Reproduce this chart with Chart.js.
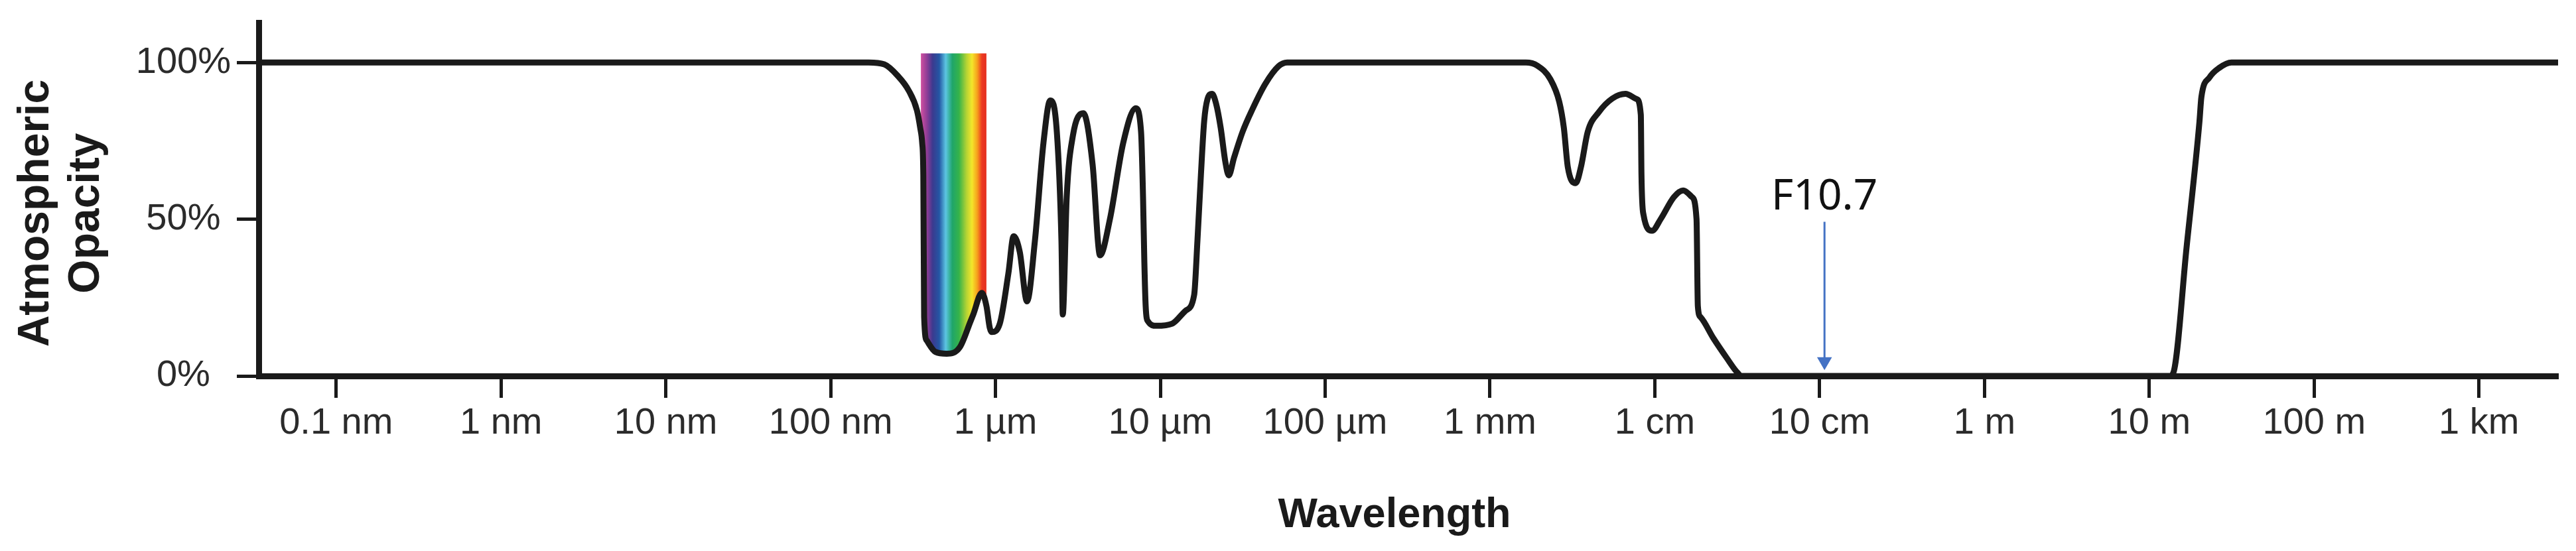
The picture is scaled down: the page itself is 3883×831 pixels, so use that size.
<!DOCTYPE html>
<html>
<head>
<meta charset="utf-8">
<script src="https://cdn.jsdelivr.net/npm/chart.js@4.4.1/dist/chart.umd.min.js"></script>
<style>
  html, body { margin: 0; padding: 0; background: #fff; }
  canvas { display: block; }
</style>
</head>
<body>
<canvas id="chart" width="3883" height="831" style="width:3883px;height:831px"></canvas>
<script>
// wavelength as log10(metres), opacity in %
const logWavelength = [
  -10.47, -6.77, -6.675, -6.594, -6.526, -6.477, -6.457, -6.445, -6.438, -6.433,
  -6.417, -6.365, -6.296, -6.216, -6.151, -6.135, -6.083, -6.055, -6.035, -6.023,
  -5.974, -5.922, -5.890, -5.853, -5.809, -5.761, -5.709, -5.668, -5.628, -5.600,
  -5.592, -5.568, -5.531, -5.467, -5.411, -5.366, -5.306, -5.225, -5.149, -5.117,
  -5.105, -5.097, -5.089, -5.076, -5.024, -4.928, -4.847, -4.795, -4.775, -4.754,
  -4.734, -4.714, -4.686, -4.662, -4.634, -4.605, -4.585, -4.553, -4.501, -4.444,
  -4.364, -4.283, -4.231, -2.782, -2.713, -2.633, -2.580, -2.552, -2.528, -2.480,
  -2.448, -2.407, -2.339, -2.258, -2.178, -2.110, -2.085, -2.081, -2.069, -2.017,
  -1.965, -1.884, -1.828, -1.775, -1.747, -1.739, -1.723, -1.643, -1.562, -1.506,
  -1.473, 1.123, 1.147, 1.226, 1.304, 1.316, 1.365, 1.425, 1.498, 3.48
];
const opacity = [
  100, 100, 99.4, 95.8, 91.0, 84.8, 79.2, 74.4, 64.0, 18.8,
  11.3, 7.7, 7.1, 9.2, 17.5, 19.6, 26.5, 22.3, 15.4, 14.0,
  16.7, 32.7, 44.6, 39.6, 23.8, 43.1, 74.4, 87.9, 77.9, 43.1,
  19.6, 57.1, 76.5, 83.8, 67.5, 38.5, 50.0, 74.4, 85.4, 77.9,
  57.1, 36.3, 22.3, 17.5, 16.0, 16.7, 20.8, 25.8, 43.1, 64.0,
  81.3, 88.3, 90.0, 86.9, 79.2, 68.1, 64.0, 69.6, 77.9, 84.8,
  93.1, 98.8, 100, 100, 99.0, 94.6, 87.5, 79.2, 66.7, 61.5,
  66.7, 77.9, 84.2, 88.5, 90.0, 88.3, 83.3, 64.0, 51.5, 46.3,
  50.0, 57.1, 59.2, 57.1, 50.0, 22.3, 18.8, 11.9, 5.6, 1.5,
  0, 0, 1.2, 41, 81.0, 89.0, 95.2, 98.3, 100, 100
];

const tickExponents = [-10, -9, -8, -7, -6, -5, -4, -3, -2, -1, 0, 1, 2, 3];
const tickLabels = ['0.1 nm', '1 nm', '10 nm', '100 nm', '1 µm', '10 µm', '100 µm',
  '1 mm', '1 cm', '10 cm', '1 m', '10 m', '100 m', '1 km'];
const yTicks = [0, 50, 100];

// visible light band (log10 m) and its top edge
const visibleBand = [-6.453, -6.055];
const visibleTop = 102.9;
const rainbow = ['#d050a0', '#8a3c96', '#3b3a8f', '#2456a4', '#5cc5e2', '#1fa56a',
  '#35b34a', '#b8d433', '#f4e62a', '#f6a01c', '#ec3a22', '#e42f1f'];
const rainbowStops = [0, 0.10, 0.18, 0.28, 0.38, 0.48, 0.58, 0.70, 0.78, 0.86, 0.93, 1];

const f107Label = 'F10.7';
const f107Wavelength = 0.107; // metres
const f107Arrow = [49.2, 4.6];

const yTitle = ['Atmospheric', 'Opacity'];
const xTitle = 'Wavelength';

const INK = '#1a1a1a';
const ARROW = '#4472c4';
const SANS = '"Liberation Sans", Arial, Helvetica, sans-serif';

const f107X = Math.log10(f107Wavelength);

function rainbowFill(context) {
  const chart = context.chart;
  const x = chart.scales.x;
  const clear = 'rgba(0,0,0,0)';
  if (!x) return clear;
  const x0 = x.getPixelForValue(visibleBand[0]);
  const x1 = x.getPixelForValue(visibleBand[1]);
  if (!isFinite(x0) || !isFinite(x1)) return clear;
  const g = chart.ctx.createLinearGradient(x0, 0, x1, 0);
  rainbow.forEach((c, i) => g.addColorStop(rainbowStops[i], c));
  return g;
}

const titles = {
  id: 'titles',
  afterDraw(chart) {
    const { ctx, chartArea, scales: { x, y } } = chart;
    ctx.save();
    ctx.fillStyle = INK;

    // y title, two rotated lines
    ctx.font = 'bold 66px ' + SANS;
    ctx.textAlign = 'center';
    ctx.textBaseline = 'middle';
    const cy = (chartArea.top + chartArea.bottom) / 2 + 21;
    yTitle.forEach((t, i) => {
      ctx.save();
      ctx.translate(55 + i * 76, cy);
      ctx.rotate(-Math.PI / 2);
      ctx.fillText(t, 0, 0);
      ctx.restore();
    });

    // x title
    ctx.font = 'bold 63px ' + SANS;
    ctx.textBaseline = 'alphabetic';
    ctx.fillText(xTitle, (chartArea.left + chartArea.right) / 2 - 21, chartArea.bottom + 228);

    // F10.7 label above the arrow
    ctx.font = '64px "Noto Sans", "Open Sans", sans-serif';
    ctx.fillStyle = '#111';
    ctx.fillText(f107Label, x.getPixelForValue(f107X), y.getPixelForValue(f107Arrow[0]) - 18);
    ctx.restore();
  }
};

new Chart(document.getElementById('chart'), {
  type: 'line',
  data: {
    datasets: [
      {
        label: 'Atmospheric opacity',
        data: logWavelength.map((v, i) => ({ x: v, y: opacity[i] })),
        borderColor: INK,
        borderWidth: 9,
        borderCapStyle: 'round',
        borderJoinStyle: 'round',
        cubicInterpolationMode: 'monotone',
        pointRadius: 0,
        fill: false
      },
      {
        label: 'Visible',
        data: visibleBand.map(v => ({ x: v, y: visibleTop })),
        borderWidth: 0,
        borderColor: 'rgba(0,0,0,0)',
        backgroundColor: rainbowFill,
        pointRadius: 0,
        fill: '-1'
      },
      {
        label: f107Label,
        data: f107Arrow.map(v => ({ x: f107X, y: v })),
        borderColor: ARROW,
        borderWidth: 3,
        tension: 0,
        pointRadius: [0, 13],
        pointStyle: 'triangle',
        rotation: 180,
        pointBackgroundColor: ARROW,
        pointBorderWidth: 0,
        fill: false
      }
    ]
  },
  options: {
    responsive: false,
    devicePixelRatio: 1,
    animation: false,
    layout: { padding: { top: 26, right: 27, left: 0, bottom: 0 } },
    plugins: { legend: { display: false }, tooltip: { enabled: false } },
    scales: {
      x: {
        type: 'linear',
        min: -10.47,
        max: 3.48,
        afterBuildTicks: s => { s.ticks = tickExponents.map(v => ({ value: v })); },
        afterFit: s => { s.height = 264; },
        grid: {
          drawOnChartArea: false,
          drawTicks: true,
          tickLength: 33,
          tickWidth: 5,
          tickColor: INK
        },
        border: { display: true, width: 9, color: INK },
        ticks: {
          autoSkip: false,
          maxRotation: 0,
          padding: 13,
          color: '#2b2b2b',
          font: { family: SANS, size: 56, lineHeight: 0.9 },
          callback: (v, i) => tickLabels[i]
        }
      },
      y: {
        min: 0,
        max: 112.7,
        afterBuildTicks: s => { s.ticks = yTicks.map(v => ({ value: v })); },
        afterFit: s => { s.width = 390; },
        grid: {
          drawOnChartArea: false,
          drawTicks: true,
          tickLength: 33,
          tickWidth: 5,
          tickColor: INK
        },
        border: { display: true, width: 9, color: INK },
        ticks: {
          crossAlign: 'center',
          padding: 9,
          color: '#2b2b2b',
          font: { family: SANS, size: 56, lineHeight: 0.9 },
          callback: v => v + '%'
        }
      }
    }
  },
  plugins: [titles]
});
</script>
</body>
</html>
